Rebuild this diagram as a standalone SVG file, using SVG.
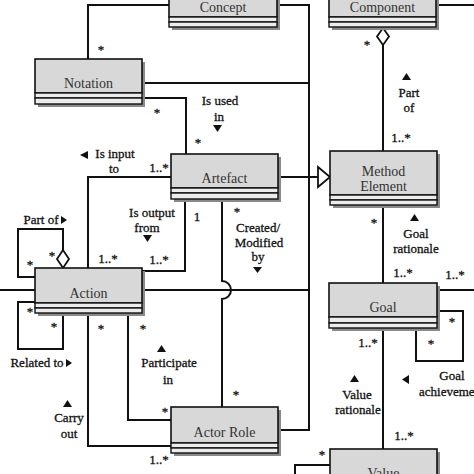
<svg xmlns="http://www.w3.org/2000/svg" width="474" height="474" viewBox="0 0 474 474">
<style>
.sh{fill:#8a8a8a}
.bx{fill:#d8d8d8;stroke:#111;stroke-width:1.6}
.cp{fill:#ececec;stroke:#111;stroke-width:1.4}
.nm{fill:#333}
.lb{fill:#111;stroke:#111;stroke-width:0.3}
.ln{fill:none;stroke:#111;stroke-width:2}
.tri{fill:#111}
</style>
<rect width="474" height="474" fill="#fff"/>
<g id="connectors">
<path class="ln" d="M88,59 V5 H169"/>
<path class="ln" d="M277,5 H309 V430 H278"/>
<path class="ln" d="M142,83 H309"/>
<path class="ln" d="M0,290 H35"/>
<path class="ln" d="M142,290 H309"/>
<path class="ln" d="M278,177 H318"/>
<polygon points="318,167 330,177 318,187" fill="#fff" stroke="#111" stroke-width="1.8"/>
<path class="ln" d="M142,98 H186 V154"/>
<path class="ln" d="M171,177 H88 V268"/>
<path class="ln" d="M185,199 V271 H142"/>
<path class="ln" d="M222,199 V281 A9,9 0 0 1 222,299 V407"/>
<path class="ln" d="M63,251 V229 H18 V277 H35"/>
<polygon points="63,268 69,259 63,250 57,259" fill="#fff" stroke="#111" stroke-width="1.8"/>
<path class="ln" d="M35,302 H18 V349 H63 V313"/>
<path class="ln" d="M88,313 V446 H171"/>
<path class="ln" d="M128,313 V420 H171"/>
<path class="ln" d="M383,45 V151"/>
<polygon points="383,28 389,36.5 383,45 377,36.5" fill="#fff" stroke="#111" stroke-width="1.8"/>
<path class="ln" d="M436,5 H474"/>
<path class="ln" d="M383,205 V283"/>
<path class="ln" d="M437,290 H474"/>
<path class="ln" d="M437,311 H463 V361 H416 V328"/>
<path class="ln" d="M383,328 V449"/>
<path class="ln" d="M330,465 H295 V474"/>
</g>
<g id="labels" font-size="13" text-anchor="middle">
<text class="lb" font-family="Liberation Serif" x="101" y="54">*</text>
<text class="lb" font-family="Liberation Serif" x="220" y="105">Is used</text>
<text class="lb" font-family="Liberation Serif" x="219" y="121">in</text>
<polygon class="tri" points="213,125 222,125 217.5,132"/>
<text class="lb" font-family="Liberation Serif" x="157" y="117">*</text>
<text class="lb" font-family="Liberation Serif" x="198" y="147">*</text>
<polygon class="tri" points="88,151 88,159 80,155"/>
<text class="lb" font-family="Liberation Serif" x="115" y="158">Is input</text>
<text class="lb" font-family="Liberation Serif" x="114" y="173">to</text>
<text class="lb" font-family="Liberation Serif" x="159" y="172">1..*</text>
<text class="lb" font-family="Liberation Serif" x="152" y="217">Is output</text>
<text class="lb" font-family="Liberation Serif" x="147" y="232">from</text>
<polygon class="tri" points="143,235 152,235 147.5,242"/>
<text class="lb" font-family="Liberation Serif" x="197" y="221">1</text>
<text class="lb" font-family="Liberation Serif" x="159" y="264">1..*</text>
<text class="lb" font-family="Liberation Serif" x="108" y="263">1..*</text>
<text class="lb" font-family="Liberation Serif" x="41" y="224">Part of</text>
<polygon class="tri" points="61,216 61,224 67,220"/>
<text class="lb" font-family="Liberation Serif" x="30" y="269">*</text>
<text class="lb" font-family="Liberation Serif" x="52" y="260">*</text>
<text class="lb" font-family="Liberation Serif" x="30" y="316">*</text>
<text class="lb" font-family="Liberation Serif" x="54" y="331">*</text>
<text class="lb" font-family="Liberation Serif" x="37" y="367">Related to</text>
<polygon class="tri" points="66,359 66,367 72,363"/>
<text class="lb" font-family="Liberation Serif" x="101" y="333">*</text>
<polygon class="tri" points="63,407 72,407 67.5,400"/>
<text class="lb" font-family="Liberation Serif" x="69" y="422">Carry</text>
<text class="lb" font-family="Liberation Serif" x="69" y="438">out</text>
<text class="lb" font-family="Liberation Serif" x="159" y="464">1..*</text>
<text class="lb" font-family="Liberation Serif" x="143" y="333">*</text>
<text class="lb" font-family="Liberation Serif" x="165" y="416">*</text>
<polygon class="tri" points="157,352 166,352 161.5,345"/>
<text class="lb" font-family="Liberation Serif" x="169" y="367">Participate</text>
<text class="lb" font-family="Liberation Serif" x="168" y="384">in</text>
<text class="lb" font-family="Liberation Serif" x="237" y="216">*</text>
<text class="lb" font-family="Liberation Serif" x="258" y="232">Created/</text>
<text class="lb" font-family="Liberation Serif" x="259" y="246.5">Modified</text>
<text class="lb" font-family="Liberation Serif" x="258" y="261">by</text>
<polygon class="tri" points="253,267 262,267 257.5,273"/>
<text class="lb" font-family="Liberation Serif" x="236" y="399">*</text>
<text class="lb" font-family="Liberation Serif" x="367" y="49">*</text>
<polygon class="tri" points="402,80 411,80 406.5,73"/>
<text class="lb" font-family="Liberation Serif" x="409" y="97">Part</text>
<text class="lb" font-family="Liberation Serif" x="409" y="112">of</text>
<text class="lb" font-family="Liberation Serif" x="401" y="142">1..*</text>
<text class="lb" font-family="Liberation Serif" x="374" y="227">*</text>
<polygon class="tri" points="410,221 419,221 414.5,214"/>
<text class="lb" font-family="Liberation Serif" x="416" y="238">Goal</text>
<text class="lb" font-family="Liberation Serif" x="416" y="253">rationale</text>
<text class="lb" font-family="Liberation Serif" x="403" y="277">1..*</text>
<text class="lb" font-family="Liberation Serif" x="455" y="279">1..*</text>
<text class="lb" font-family="Liberation Serif" x="452" y="326">*</text>
<text class="lb" font-family="Liberation Serif" x="431" y="348">*</text>
<polygon class="tri" points="409,375 409,384 402,379.5"/>
<text class="lb" font-family="Liberation Serif" x="452" y="380">Goal</text>
<text class="lb" font-family="Liberation Serif" x="419" y="396" text-anchor="start">achievement</text>
<text class="lb" font-family="Liberation Serif" x="368" y="347">1..*</text>
<polygon class="tri" points="350,382 359,382 354.5,375"/>
<text class="lb" font-family="Liberation Serif" x="357" y="399">Value</text>
<text class="lb" font-family="Liberation Serif" x="358" y="414">rationale</text>
<text class="lb" font-family="Liberation Serif" x="404" y="440">1..*</text>
<text class="lb" font-family="Liberation Serif" x="322" y="459">*</text>
</g>
<g font-size="14" text-anchor="middle">
<g id="concept">
<rect class="sh" x="172" y="-17" width="108" height="47"/>
<rect class="bx" x="169" y="-20" width="108" height="37"/>
<rect class="cp" x="169" y="17" width="108" height="5"/>
<rect class="cp" x="169" y="22" width="108" height="5"/>
<text class="nm" font-family="Liberation Serif" x="223" y="12">Concept</text>
</g>
<g id="component">
<rect class="sh" x="332" y="-17" width="107" height="47"/>
<rect class="bx" x="329" y="-20" width="107" height="37"/>
<rect class="cp" x="329" y="17" width="107" height="5"/>
<rect class="cp" x="329" y="22" width="107" height="5"/>
<text class="nm" font-family="Liberation Serif" x="382.5" y="12">Component</text>
</g>
<g id="notation">
<rect class="sh" x="38" y="62" width="107" height="45"/>
<rect class="bx" x="35" y="59" width="107" height="34"/>
<rect class="cp" x="35" y="93" width="107" height="5"/>
<rect class="cp" x="35" y="98" width="107" height="6"/>
<text class="nm" font-family="Liberation Serif" x="88.5" y="88">Notation</text>
</g>
<g id="artefact">
<rect class="sh" x="174" y="157" width="107" height="45"/>
<rect class="bx" x="171" y="154" width="107" height="34"/>
<rect class="cp" x="171" y="188" width="107" height="5"/>
<rect class="cp" x="171" y="193" width="107" height="6"/>
<text class="nm" font-family="Liberation Serif" x="224.5" y="183">Artefact</text>
</g>
<g id="method-element">
<rect class="sh" x="333" y="154" width="107" height="54"/>
<rect class="bx" x="330" y="151" width="107" height="44"/>
<rect class="cp" x="330" y="195" width="107" height="5"/>
<rect class="cp" x="330" y="200" width="107" height="5"/>
<text class="nm" font-family="Liberation Serif" x="383.5" y="176">Method</text>
<text class="nm" font-family="Liberation Serif" x="383.5" y="191">Element</text>
</g>
<g id="action">
<rect class="sh" x="38" y="271" width="107" height="45"/>
<rect class="bx" x="35" y="268" width="107" height="35"/>
<rect class="cp" x="35" y="303" width="107" height="5"/>
<rect class="cp" x="35" y="308" width="107" height="5"/>
<text class="nm" font-family="Liberation Serif" x="88.5" y="298">Action</text>
</g>
<g id="goal">
<rect class="sh" x="332" y="286" width="108" height="45"/>
<rect class="bx" x="329" y="283" width="108" height="34"/>
<rect class="cp" x="329" y="317" width="108" height="6"/>
<rect class="cp" x="329" y="323" width="108" height="5"/>
<text class="nm" font-family="Liberation Serif" x="383" y="312">Goal</text>
</g>
<g id="actor-role">
<rect class="sh" x="174" y="410" width="107" height="46"/>
<rect class="bx" x="171" y="407" width="107" height="36"/>
<rect class="cp" x="171" y="443" width="107" height="5"/>
<rect class="cp" x="171" y="448" width="107" height="5"/>
<text class="nm" font-family="Liberation Serif" x="224.5" y="437">Actor Role</text>
</g>
<g id="value">
<rect class="sh" x="333" y="452" width="107" height="40"/>
<rect class="bx" x="330" y="449" width="107" height="40"/>
<text class="nm" font-family="Liberation Serif" x="383.5" y="478">Value</text>
</g>
</g>
</svg>
